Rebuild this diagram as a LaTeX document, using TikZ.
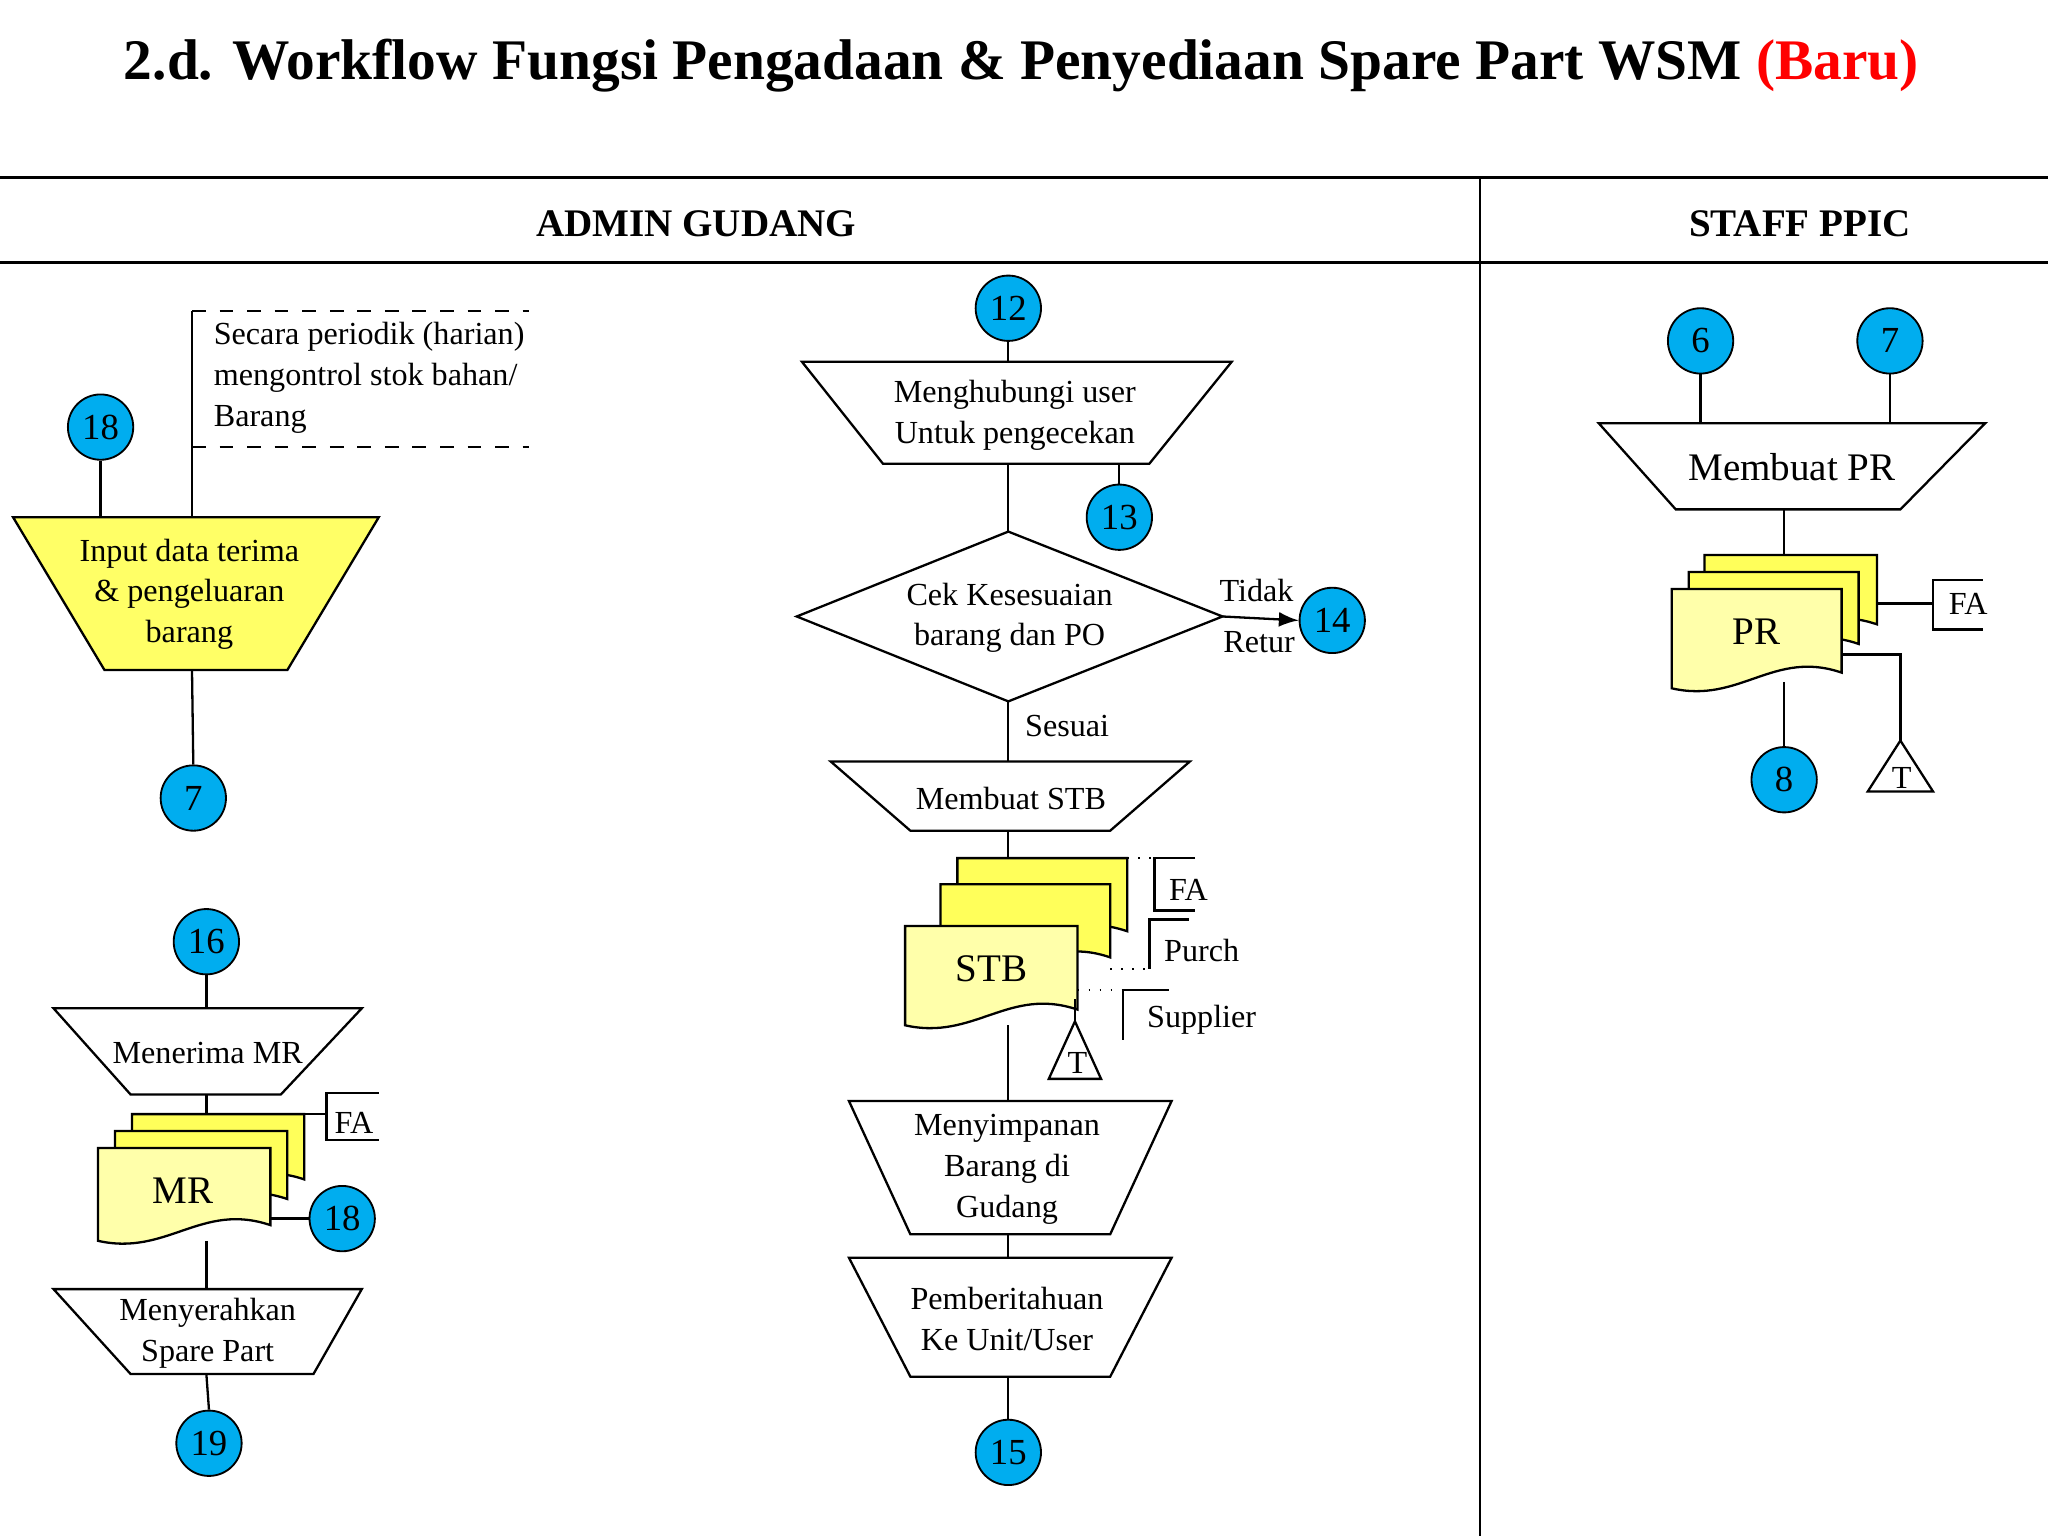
\documentclass[tikz,border=0pt]{standalone}
\usepackage{fontspec}
\setmainfont{Liberation Serif}
\definecolor{yel}{RGB}{255,255,102}
\definecolor{docy}{RGB}{255,255,170}
\definecolor{docb}{RGB}{255,255,90}
\newcommand\mytrap[7]{\filldraw[fill=#7,draw=black,line width=0.5pt] (#2,#1)--(#3,#1)--(#6,#4)--(#5,#4)--cycle;}
\newcommand\mydoc[5]{\filldraw[fill=#5,draw=black,line width=0.5pt] (#1,#2)--(#3,#2)--(#3,#4-12) .. controls ({#1+0.6*(#3-#1)},#4-30) and ({#1+0.4*(#3-#1)},#4+12) .. (#1,#4)--cycle;}
\begin{document}
\begin{tikzpicture}[x=0.01cm,y=-0.01cm,
  txt/.style={font=\fontsize{7}{8.9}\selectfont,align=center,inner sep=0pt},
  num/.style={circle,draw,fill=cyan,minimum size=0.5cm,inner sep=0pt,font=\fontsize{8}{9}\selectfont},
  ln/.style={line width=0.5pt},
  hd/.style={font=\fontsize{8.5}{10}\selectfont\bfseries}]
\useasboundingbox (0,0) rectangle (1568,1176);
\node[font=\fontsize{12.5}{14}\selectfont\bfseries] (title) at (782,50) {2.d. Workflow Fungsi Pengadaan \& Penyediaan Spare Part WSM \textcolor{red}{(Baru)}};
\draw[ln] (0,136)--(1568,136) (0,201)--(1568,201) (1133,136)--(1133,1176);
\node[hd] (h1) at (533,171) {ADMIN GUDANG};
\node[hd] (h2) at (1378,171) {STAFF PPIC};
% left column
\node[num] (c18a) at (77,327) {18};
\draw[ln] (c18a.south)--(77,396);
\mytrap{396}{10}{290}{513}{80}{220}{yel}
\node[txt] (inp) at (145,455) {Input data terima\\\& pengeluaran\\barang};
\draw[ln] (147,396)--(147,238);
\draw[ln,dashed] (147,238)--(405,238) (147,342)--(405,342);
\node[txt,align=left,anchor=west] (per) at (163,289) {Secara periodik (harian)\\mengontrol stok bahan/\\Barang};
\node[num] (c7a) at (148,611) {7};
\draw[ln] (147,513)--(c7a.north);
\node[num] (c16) at (158,721) {16};
\mytrap{772}{41}{277}{838}{100}{215}{white}
\draw[ln] (c16.south)--(158,772);
\node[txt] (mmr) at (159,806) {Menerima MR};
\draw[ln] (158,838)--(158,853);
\mydoc{101}{853}{233}{915}{docb}
\mydoc{88}{866}{220}{930}{docb}
\mydoc{75}{879}{207}{950}{docy}
\node[font=\fontsize{8.5}{10}\selectfont] (mr) at (140,912) {MR};
\draw[ln] (233,853)--(250,853) (290,837)--(250,837)--(250,873)--(290,873);
\node[txt] (fa1) at (271,860) {FA};
\node[num] (c18b) at (262,933) {18};
\draw[ln] (207,933)--(c18b.west);
\draw[ln] (158,950)--(158,987);
\mytrap{987}{41}{277}{1052}{100}{240}{white}
\node[txt] (msp) at (159,1021) {Menyerahkan\\Spare Part};
\node[num] (c19) at (160,1105) {19};
\draw[ln] (158,1052)--(c19.north);
% middle column
\node[num] (c12) at (772,236) {12};
\draw[ln] (c12.south)--(772,277);
\mytrap{277}{614}{943}{355}{676}{880}{white}
\node[txt] (mhu) at (777,318) {Menghubungi user\\Untuk pengecekan};
\node[num] (c13) at (857,396) {13};
\draw[ln] (857,355)--(c13.north);
\draw[ln] (772,355)--(772,407);
\filldraw[fill=white,draw=black,line width=0.5pt] (772,407)--(936,472)--(772,537)--(610,472)--cycle;
\node[txt] (cek) at (773,473) {Cek Kesesuaian\\barang dan PO};
\node[num] (c14) at (1020,475) {14};
\draw[ln,-latex] (936,472)--(c14.west);
\node[txt] (tdk) at (962,452) {Tidak};
\node[txt] (ret) at (964,492) {Retur};
\node[txt] (ses) at (817,556) {Sesuai};
\draw[ln] (772,537)--(772,583);
\mytrap{583}{636}{911}{636}{697}{850}{white}
\node[txt] (stbm) at (774,611) {Membuat STB};
\draw[ln] (772,636)--(772,657);
\mydoc{733}{657}{863}{725}{docb}
\mydoc{720}{677}{850}{745}{docb}
\mydoc{693}{709}{825}{785}{docy}
\node[font=\fontsize{8.5}{10}\selectfont] (stb) at (759,742) {STB};
\draw[dotted] (863,657)--(884,657) (850,742)--(880,742) (825,758)--(860,758);
\draw[ln] (915,657)--(884,657)--(884,697)--(915,697);
\draw[ln] (910,704)--(880,704)--(880,742);
\draw[ln] (895,758)--(860,758)--(860,796);
\node[txt] (fa2) at (910,681) {FA};
\node[txt] (pur) at (920,728) {Purch};
\node[txt] (sup) at (920,781) {Supplier};
\draw[ln] (823,765)--(823,782);
\draw[ln] (823,782)--(843,826)--(803,826)--cycle;
\node[txt] (t1) at (825,814) {T};
\draw[ln] (772,785)--(772,843);
\mytrap{843}{650}{897}{945}{697}{850}{white}
\node[txt] (sim) at (771,895) {Menyimpanan\\Barang di\\Gudang};
\draw[ln] (772,945)--(772,963);
\mytrap{963}{650}{897}{1054}{697}{850}{white}
\node[txt] (pem) at (771,1010) {Pemberitahuan\\Ke Unit/User};
\node[num] (c15) at (772,1112) {15};
\draw[ln] (772,1054)--(c15.north);
% right column
\node[num] (c6) at (1302,261) {6};
\node[num] (c7b) at (1447,261) {7};
\draw[ln] (c6.south)--(1302,324) (c7b.south)--(1447,324);
\mytrap{324}{1224}{1520}{390}{1283}{1455}{white}
\node[font=\fontsize{8.5}{10}\selectfont] (mpr) at (1372,358) {Membuat PR};
\draw[ln] (1366,390)--(1366,425);
\mydoc{1305}{425}{1437}{490}{docb}
\mydoc{1293}{438}{1423}{505}{docb}
\mydoc{1280}{451}{1410}{527}{docy}
\node[font=\fontsize{8.5}{10}\selectfont] (pr) at (1345,484) {PR};
\draw[ln] (1437,462)--(1480,462) (1518,444)--(1480,444)--(1480,482)--(1518,482);
\node[txt] (fa3) at (1507,462) {FA};
\draw[ln] (1410,501)--(1455,501)--(1455,567);
\draw[ln] (1455,567)--(1480,606)--(1430,606)--cycle;
\node[txt] (t2) at (1456,596) {T};
\node[num] (c8) at (1366,597) {8};
\draw[ln] (1366,522)--(c8.north);
\end{tikzpicture}
\end{document}
